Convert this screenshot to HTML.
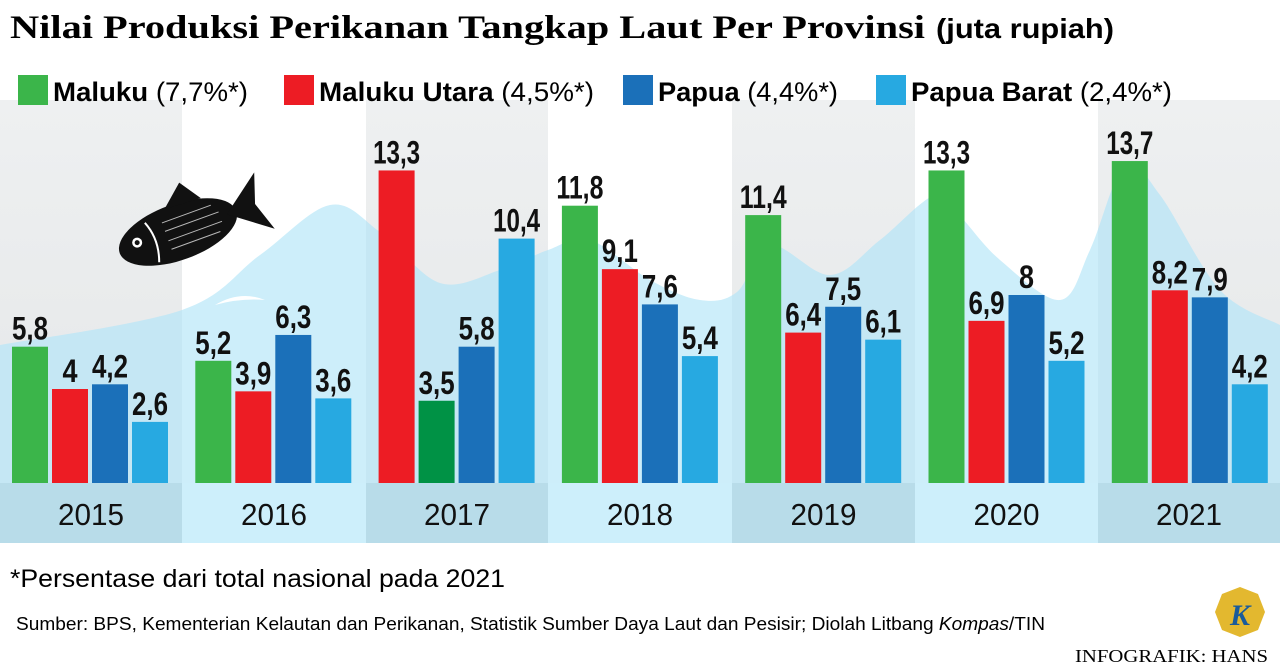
<!DOCTYPE html>
<html><head><meta charset="utf-8"><style>html,body{margin:0;padding:0;background:#fff}svg{display:block}</style></head>
<body>
<svg id="s" width="1280" height="668" viewBox="0 0 1280 668" xmlns="http://www.w3.org/2000/svg" font-family="Liberation Sans, sans-serif">
<defs><linearGradient id="g" x1="0" y1="0" x2="0" y2="1"><stop offset="0" stop-color="#f7f7f7"/><stop offset="1" stop-color="#eeeeee"/></linearGradient></defs>
<rect width="1280" height="668" fill="#fff"/>
<g id="cols"></g>
<path id="wave" fill="#cdeefa"/>
<g id="ov"></g>
<!-- fish -->
<g transform="translate(178,232) rotate(-20)">
<ellipse cx="0" cy="0" rx="62" ry="28" fill="#111"/>
<path d="M52,0 L92,-30 L82,0 L92,30 Z" fill="#111"/>
<path d="M-5,-26 L18,-46 L33,-24 Z" fill="#111"/>
<circle cx="-42" cy="-4" r="5" fill="#fff"/><circle cx="-42" cy="-4" r="2.5" fill="#111"/>
<path d="M-28,-20 Q-20,0 -28,22" stroke="#fff" stroke-width="2" fill="none"/>
<path d="M-12,-14 L40,-14 M-12,-5 L45,-5 M-12,5 L45,5 M-12,14 L40,14" stroke="#fff" stroke-width="1" fill="none" opacity="0.7"/>
</g>
<path d="M215,305 Q240,290 265,300 Q240,298 215,305Z" fill="#fff"/>
<g id="bars"></g>
<text x="10" y="38" font-family="Liberation Serif, serif" font-weight="bold" font-size="33" textLength="915" lengthAdjust="spacingAndGlyphs">Nilai Produksi Perikanan Tangkap Laut Per Provinsi</text>
<text x="936" y="38" font-weight="bold" font-size="28" textLength="178" lengthAdjust="spacingAndGlyphs">(juta rupiah)</text>
<rect x="18" y="75" width="30" height="30" fill="#3bb54a"/>
<text x="53" y="101" font-size="27" textLength="195" lengthAdjust="spacingAndGlyphs"><tspan font-weight="bold">Maluku</tspan> (7,7%*)</text>
<rect x="284" y="75" width="30" height="30" fill="#ed1c24"/>
<text x="319" y="101" font-size="27" textLength="275" lengthAdjust="spacingAndGlyphs"><tspan font-weight="bold">Maluku Utara</tspan> (4,5%*)</text>
<rect x="623" y="75" width="30" height="30" fill="#1b70b9"/>
<text x="658" y="101" font-size="27" textLength="180" lengthAdjust="spacingAndGlyphs"><tspan font-weight="bold">Papua</tspan> (4,4%*)</text>
<rect x="876" y="75" width="30" height="30" fill="#27a9e1"/>
<text x="911" y="101" font-size="27" textLength="261" lengthAdjust="spacingAndGlyphs"><tspan font-weight="bold">Papua Barat</tspan> (2,4%*)</text>
<text x="10" y="587" font-size="25" textLength="495" lengthAdjust="spacingAndGlyphs">*Persentase dari total nasional pada 2021</text>
<text x="16" y="630" font-size="18" textLength="1029" lengthAdjust="spacingAndGlyphs">Sumber: BPS, Kementerian Kelautan dan Perikanan, Statistik Sumber Daya Laut dan Pesisir; Diolah Litbang <tspan font-style="italic">Kompas</tspan>/TIN</text>
<polygon points="1240,587 1258,594 1265,612 1258,630 1240,637 1222,630 1215,612 1222,594" fill="#e3b82f"/>
<text x="1240" y="625" text-anchor="middle" font-family="Liberation Serif, serif" font-style="italic" font-weight="bold" font-size="30" fill="#1a5b9a">K</text>
<text x="1075" y="662" font-family="Liberation Serif, serif" font-size="18" textLength="193" lengthAdjust="spacingAndGlyphs">INFOGRAFIK: HANS</text>
</svg>
<script>
var NS="http://www.w3.org/2000/svg";
function el(p,t,a,txt){var e=document.createElementNS(NS,t);for(var k in a)e.setAttribute(k,a[k]);if(txt!=null)e.textContent=txt;document.getElementById(p).appendChild(e);return e;}
var P=[[0,345],[182,310],[260,255],[330,205],[380,232],[440,283],[500,270],[548,250],[590,240],[650,280],[700,300],[737,292],[770,245],[830,275],[880,240],[935,195],[960,216],[1000,260],[1060,300],[1090,250],[1125,165],[1160,195],[1220,290],[1280,325]];
var d="M"+P[0][0]+","+P[0][1];
for(var i=0;i<P.length-1;i++){var p0=P[Math.max(i-1,0)],p1=P[i],p2=P[i+1],p3=P[Math.min(i+2,P.length-1)];
d+=" C"+(p1[0]+(p2[0]-p0[0])/6)+","+(p1[1]+(p2[1]-p0[1])/6)+" "+(p2[0]-(p3[0]-p1[0])/6)+","+(p2[1]-(p3[1]-p1[1])/6)+" "+p2[0]+","+p2[1];}
d+=" L1280,483 L0,483 Z";document.getElementById("wave").setAttribute("d",d);
var edges=[0,182,366,548,732,915,1098,1280];
var years=["2015","2016","2017","2018","2019","2020","2021"];
var data=[[5.8,4,4.2,2.6],[5.2,3.9,6.3,3.6],[13.3,3.5,5.8,10.4],[11.8,9.1,7.6,5.4],[11.4,6.4,7.5,6.1],[13.3,6.9,8,5.2],[13.7,8.2,7.9,4.2]];
var cols=["#3bb54a","#ed1c24","#1b70b9","#27a9e1"];
for(var i=0;i<7;i++){
 var x0=edges[i],w=edges[i+1]-edges[i],odd=i%2==0;
 el("cols","rect",{x:x0,y:100,width:w,height:383,fill:odd?"url(#g)":"#fff"});
 if(odd) el("ov","rect",{x:x0,y:100,width:w,height:383,fill:"rgba(0,60,90,0.035)"});
 el("ov","rect",{x:x0,y:483,width:w,height:60,fill:odd?"#b8dce9":"#cdeffb"});
 el("ov","text",{x:x0+w/2,y:525,"text-anchor":"middle","font-size":"31",fill:"#111",textLength:"66",lengthAdjust:"spacingAndGlyphs"},years[i]);
 var gx=12+i*183.3;
 for(var j=0;j<4;j++){
  var v=data[i][j],h=v*23.5,bx=gx+j*40,c=cols[j];
  if(i==2){c=j==0?"#ed1c24":j==1?"#009245":cols[j];}
  el("bars","rect",{x:bx,y:483-h,width:36,height:h,fill:c});
  var s=String(v).replace(".",","),nd=s.replace(",","").length,tl=nd*15+(s.indexOf(",")>=0?6:0);
  if(s.charAt(0)=="1"&&nd>2)tl-=4;
  el("bars","text",{x:bx+18,y:483-h-7,"text-anchor":"middle","font-size":"32","font-weight":"bold",fill:"#111",textLength:tl,lengthAdjust:"spacingAndGlyphs"},s);
 }
}
</script>
</body></html>
